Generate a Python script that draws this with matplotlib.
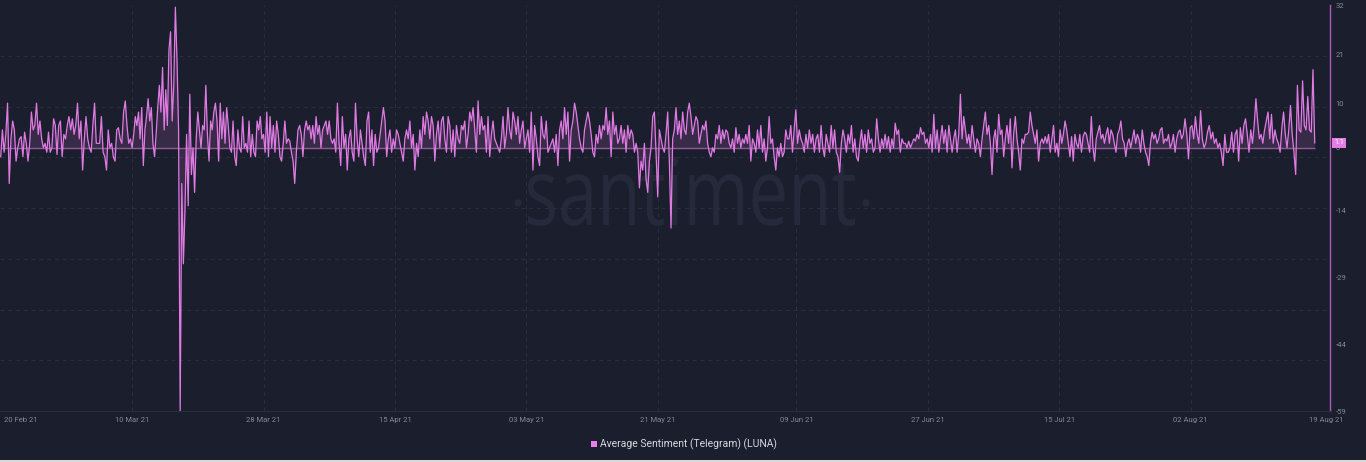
import numpy as np
import pandas as pd
import matplotlib
matplotlib.use("Agg")
import matplotlib.pyplot as plt
from matplotlib.textpath import TextPath
from matplotlib.font_manager import FontProperties
from matplotlib.patches import PathPatch, Circle, Rectangle
from matplotlib.transforms import Affine2D, ScaledTranslation, blended_transform_factory

# ---------------- data ----------------
segment_bounds = ["2021-02-20", "2021-03-10", "2021-03-28", "2021-04-15", "2021-05-03",
                  "2021-05-21", "2021-06-08", "2021-06-26", "2021-07-14", "2021-08-01",
                  "2021-08-19"]

seg_feb20 = [-2, 4, -1, 3, 10, -8, 2, 6, 4, -3, 0, 2, 2.5, -2, 3.5, 1, -3, 1, 8, 4, 5, 10, 3, 6, 2,
             0, 1, -1, 3.5, -1, 0, 6.5, 5, -1.5, 5, 6, -2, 3, 2, 5, 7, 4, 6.5, 3, 5, 10, 2, 6, -5,
             2, 7, 2, 0, -1, 5, 10, 1, 1, 1, 7, -1, -2, -5, 4, 0, 1, -2, -3, 4, 4.5, 2, 1, 8, 10.5,
             5, 1, 2]
seg_mar10 = [0, 3, 7, 5, 8, 2, 9, -4, 4, 7, 11, 6, 9, 1, -2, 3, 9, 14, 8, 18, 4, 13, 5, 22, 26,
             6, 14, 31.5, 20, 4, -59, -8, -26, -14, 3, -13, 12, -6, 0, -10, 2, 8, 4, 0, 5, 4, 14,
             3, -3, 6, 4, 8, 10, 6, -3, 10, 2, 8, 1, 9, 5, 0, -1, 6, -2, -4, 4, 0, -1, 7, 0, 1,
             -1, 6, -2, 3, -1, -2, 6, 4, 7, 2]
seg_mar28 = [3, -1, 8, -2, 7, 0, 5, -1, 6, 3, -2, -3, 1, 6, 1, 2, 1.5, -1, -3, -8, -1, 4, 5, 3,
             -2, 4, 6, 4, 5, 2, 5, 1, 7, 3, 5, 0, 4, 5, 6, 3, 6, 2, 1, 2, -1, 10, 1, -4, 7, 0, 3,
             -5, 2, 4, -1, -3, 10, 2, -2, 4, 1, -2, -4, 6, 8, -1, 4, -4, 3, -1, 0, 3, 6, 9, 6,
             -2, 2, 4, -1, 2]
seg_apr15 = [0, 4, 3, 1, -1, -3, 2, 4, 2, 6, 0, 3, -5, 1, -2, 4, 0, 7, 3, 8, 6, 2, 7, 5, -3, 3,
             6, 0, 6, 7, 2, -1, 7, 5, -1, 4, -2, 5, 2, 1, 5, 4, 6, 0, 3, 8, 6, 9, 4, -1, 10.5, 3,
             7, 4, 5, -1, 7, -2, 3, 6, 2, 1, 0, -1, 2, 7, 0, 3, 9, 4, 2, 8, 6, 3, 7, 1, 4, 6, 0]
seg_may03 = [2, 4, -1, 8, -5, 5, 2, -2, -4, 7, 3, 2, 6, -1, 0, 1, 2, -1, 3, -4, 4, 6, 2, 9, 3,
             8, -3, 4, 6, 10, 8, 5, 2, 0, -1, 4, 6, 8, 6, 3, -1, -2, 3, 1, 5, 2, 5, 4, 9, 3, 6,
             -2, 8, 3, 5, 1, 2, 5, 1, 4, -1, 5, 2, 4, 3, -1, 1, -1, -9, -3, -5, 1, -7, -10, -3,
             0, 7, 8, -1]
seg_may21 = [-11, 4, 2, 0, -1, 3, 8, -3, -18, 2, 4, 9, 3, 6, 2, 8, 4, 3, 8, 10, 7, 3, 5, 7, 6,
             1, 3, 5, 4, 6, 1, -1, -2, 0, -1, 3, 2, 5, 1, 4, 2, 4, 3.5, 1, 0, 2, -1, 4.5, 1, 3,
             0, 2, 1, 3, 1, 5, -3, 2, 1, -1, 4, 0, 5, -1, 2, -3, 0, 7, 1, 2, -2, -5, 0, -2, 1,
             -2, -1, 4, 2]
seg_jun08 = [2, 5, -1, 4, 8.5, 1, 4, 2, 1, -1, 3, 0, 4, 1, 3, -1, 2, 3, -1, 5, 0, -2, 3, 1, -1,
             5, 0, 4, -1, -2, -5.5, 1, 4, 2, -1, 3, 1, 5, -1, 2, -2, -3, 1, 4, 0, 3, -1, 4, 1, 2,
             -1, 0, 6.5, 2, -1, 2, 0, 3, 0, 2.5, -1, 2, 0, 5.5, 3, 4, -1, 2, 1, 1, 0, 1.5, 0, 1,
             2, 1.5, 3, 2]
seg_jun26 = [4.5, 3, 3.5, 1, 2, 0, 3, -1, 7.5, 0, 4, -1, 2, 5, 1, 4, -1, 5, 2, -1, 2, 4, -1, 3,
             12, 2, 7, 4, 1, 3, 0, 5, 2, -1, 2, 1, -2, 2, 5, 8, 3, 5, 1, -6, 2, 4, -1, 7.5, 3, 4,
             -2, 2, 5, 1, 6.5, -4.5, 3, 7, 2, -1, -5, 2, 1, 3, 3, 3.5, 8, 5, 3, 1, 4, -3, 1, 2,
             1, 2.5, 1, 3, -1]
seg_jul14 = [2, 5, -1, 1, -2, 4, 1, 3, 6, 4, 1, -2, 2.5, -3, 3, 1, 0, 3, -1, 2.5, 3.5, 3, 1, -1,
             7, 0, -3, 2, 3.5, 5, 2, 3, 1, 3, 4.5, 1, 4, 3, 1, -1, 3, 4, 6, 2, 1, -2, 1, 2, 0, 2,
             4, 1, 3, 2, -1, 4, 1, -1, -2, -4, 1, 3.5, 2, 3, 1, 2, 4, 4.5, 1, 2, 1.5, 3, 0, 1, 3,
             -1, 2, 3.5, 4, 2]
seg_aug01 = [3, 6.5, 3, -2.5, 4.5, 5, 2, 7, 3, 1, 8.3, 2, 0, 1, 3.5, 5, 2, 3.5, 1, 2, 0, 1, -1,
             -4, 3, -1, -1, 0, 3.5, -1, 3, 4, -3, 4.5, 1, 5, 6.5, 3, -1, 4, 1, 5, 11, 6, 2, 3, 1,
             4, 6, 8, 2, 7.5, 1, 4, 2, 1, -1, 4.5, 8, 3, 0, 4, 9.5, 3, -1, -6, 14, 4, 3.5, 15, 5,
             4, 11.5, 4, 3.5, 17.5, 1.1]

segments = [seg_feb20, seg_mar10, seg_mar28, seg_apr15, seg_may03,
            seg_may21, seg_jun08, seg_jun26, seg_jul14, seg_aug01]

x_tick_dates = ["2021-02-20", "2021-03-10", "2021-03-28", "2021-04-15", "2021-05-03",
                "2021-05-21", "2021-06-09", "2021-06-27", "2021-07-15", "2021-08-02",
                "2021-08-19"]
x_tick_labels = ["20 Feb 21", "10 Mar 21", "28 Mar 21", "15 Apr 21", "03 May 21",
                 "21 May 21", "09 Jun 21", "27 Jun 21", "15 Jul 21", "02 Aug 21", "19 Aug 21"]
y_tick_values = [32, 21, 10, 0, -14, -29, -44, -59]
y_limits = (-59, 32)
series_label = "Average Sentiment (Telegram) (LUNA)"
last_value_label = "1.1"

# ---------------- style ----------------
BG = "#1b1e2d"
LINE = "#e07be4"
GRID = "#2b2e41"
TXT = "#858896"
WM = "#252939"
W, H = 1366, 462

t0 = pd.Timestamp(segment_bounds[0])
def day(s):
    return (pd.Timestamp(s) - t0) / pd.Timedelta(days=1)

xs, ys = [], []
for i, seg in enumerate(segments):
    d0, d1 = day(segment_bounds[i]), day(segment_bounds[i + 1])
    last = i == len(segments) - 1
    xs.append(np.linspace(d0, d1, len(seg), endpoint=last))
    ys.append(np.asarray(seg, dtype=float))
x = np.concatenate(xs)
y = np.concatenate(ys)

plt.rcParams["font.family"] = ["Roboto", "DejaVu Sans"]
fig = plt.figure(figsize=(W / 100, H / 100), dpi=100, facecolor=BG)
ax = fig.add_axes([0, 1 - 411 / H, 1330 / W, (411 - 5) / H])
ax.set_facecolor(BG)

# watermark
fp = FontProperties(family="Open Sans")
tp = TextPath((0, 0), "santiment", size=1, prop=fp)
ext = tp.get_extents()
xh = TextPath((0, 0), "x", size=1, prop=fp).get_extents().height
sx = (855 - 528) / ext.width
sy = 50 / xh
tr = (Affine2D().translate(-ext.x0, 0).scale(sx / 100, sy / 100)
      .translate(528 / 100, (H - 225) / 100) + fig.dpi_scale_trans)
wm = PathPatch(tp, transform=tr, fc=WM, ec="none", zorder=0.6)
ax.add_patch(wm)
for cx, cy in [(518, 203), (866, 203)]:
    ax.add_patch(Circle((cx / 100, (H - cy) / 100), 3.6 / 100, transform=fig.dpi_scale_trans,
                        fc=WM, ec="none", zorder=0.6))

# data
ax.fill_between(x, y, 0, color=LINE, alpha=0.15, lw=0, zorder=1)
ax.hlines(0, x[0], x[-1], color="#8c5a95", lw=1.0, zorder=1.5)
ax.plot(x, y, color=LINE, lw=0.9, zorder=2, solid_joinstyle="round")

ax.set_ylim(*y_limits)
xmax = (1330 - 0.7) / 7.3
ax.set_xlim(-0.7 / 7.3, xmax)

# grid
ax.set_yticks(np.linspace(y_limits[0], y_limits[1], 9), minor=True)
ax.grid(which="minor", axis="y", color=GRID, lw=0.7, ls=(0, (4, 4)))
ax.set_xticks([day(d) for d in x_tick_dates])
ax.set_xticklabels(x_tick_labels)
ax.grid(which="major", axis="x", color=GRID, lw=0.7, ls=(0, (4, 4)))
ax.set_axisbelow(True)
ax.get_xgridlines()[0].set_visible(False)
ax.get_xgridlines()[-1].set_visible(False)

ax.yaxis.tick_right()
ax.set_yticks(y_tick_values)
ax.set_yticklabels([str(v) for v in y_tick_values])
ax.tick_params(axis="y", which="both", length=0, pad=4, labelsize=5.5, labelcolor=TXT)
ax.tick_params(axis="x", which="both", length=0, pad=4, labelsize=5.5, labelcolor=TXT)
xl = ax.get_xticklabels()
xl[0].set_ha("left")
xl[0].set_transform(xl[0].get_transform() + ScaledTranslation(3 / 100, 0, fig.dpi_scale_trans))
xl[-1].set_transform(xl[-1].get_transform() + ScaledTranslation(12 / 100, 0, fig.dpi_scale_trans))

for s in ["top", "left"]:
    ax.spines[s].set_visible(False)
ax.spines["right"].set_color("#b05ab9")
ax.spines["right"].set_linewidth(1.0)
ax.spines["bottom"].set_color("#2a2d3e")
ax.spines["bottom"].set_linewidth(0.8)

# last value marker
bt = blended_transform_factory(ax.transAxes, ax.transData)
ax.text(1.0, y[-1], last_value_label, transform=bt + ScaledTranslation(4 / 100, 0, fig.dpi_scale_trans),
        ha="left", va="center", fontsize=5, color="#ffffff", clip_on=False, zorder=5,
        bbox=dict(boxstyle="square,pad=0.25", fc="#e47fe7", ec="none"))

# legend
fig.patches.append(Rectangle((591 / W, 1 - 447 / H), 6 / W, 6 / H, transform=fig.transFigure,
                             fc="#ea7de9", ec="none"))
fig.text(600 / W, 1 - 444 / H, series_label, ha="left", va="center", fontsize=7.5, color="#d6d7df")

# bottom border of screenshot
fig.patches.append(Rectangle((0, 0), 1, 2 / H, transform=fig.transFigure, fc="#d8d8d8", ec="none"))

fig.savefig("out.png", dpi=100, facecolor=BG)
